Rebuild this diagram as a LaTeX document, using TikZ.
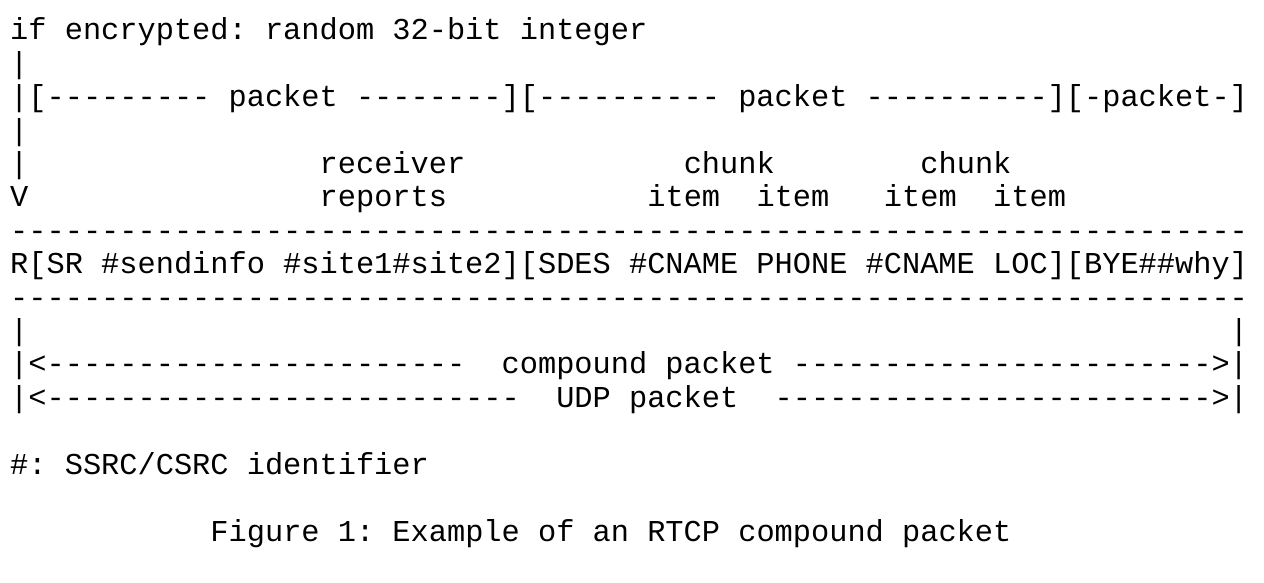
\documentclass[tikz,border=0pt]{standalone}
\usepackage{fontspec}
\newfontfamily\mono{Liberation Mono}
\begin{document}
\begin{tikzpicture}[x=1bp,y=-1bp,txt/.style={anchor=base west,inner sep=0pt,font=\mono\fontsize{30.45}{33.4}\selectfont}]
\useasboundingbox (0,0) rectangle (1264,583);
\foreach \i/\s in {
0/{if~encrypted:~random~32-bit~integer},
1/{|},
2/{|[---------~packet~--------][----------~packet~----------][-packet-]},
3/{|},
4/{|~~~~~~~~~~~~~~~~receiver~~~~~~~~~~~~chunk~~~~~~~~chunk},
5/{V~~~~~~~~~~~~~~~~reports~~~~~~~~~~~item~~item~~~item~~item},
6/{--------------------------------------------------------------------},
7/{R[SR~\#sendinfo~\#site1\#site2][SDES~\#CNAME~PHONE~\#CNAME~LOC][BYE\#\#why]},
8/{--------------------------------------------------------------------},
9/{|~~~~~~~~~~~~~~~~~~~~~~~~~~~~~~~~~~~~~~~~~~~~~~~~~~~~~~~~~~~~~~~~~~|},
10/{|<-----------------------~~compound~packet~----------------------->|},
11/{|<--------------------------~~UDP~packet~~------------------------>|},
13/{\#:~SSRC/CSRC~identifier},
15/{~~~~~~~~~~~Figure~1:~Example~of~an~RTCP~compound~packet}}
{\node[txt] (l\i) at (10,40+33.4*\i) {\s};}
\end{tikzpicture}
\end{document}
